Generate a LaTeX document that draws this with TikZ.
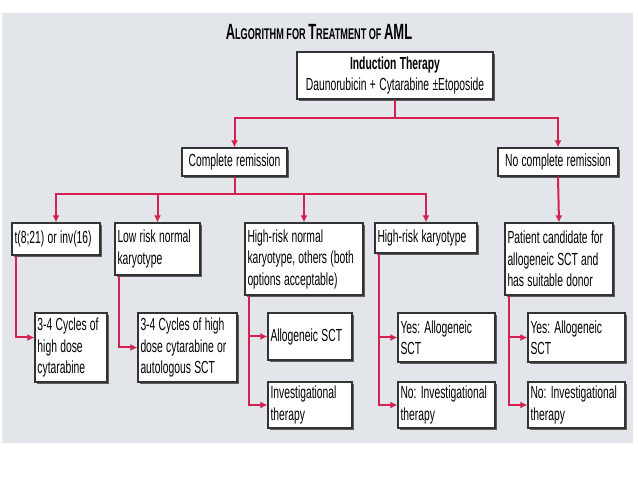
\documentclass[tikz,border=0pt]{standalone}
\usepackage{fontspec}
\setmainfont{Liberation Sans}[FakeStretch=0.59]
\usetikzlibrary{arrows.meta,calc,shadows}
\definecolor{panel}{HTML}{E2E5EA}
\definecolor{crimson}{HTML}{D4214F}
\definecolor{edge}{HTML}{333333}
\definecolor{shade}{HTML}{5E5E5E}
\newcommand{\capl}[1]{{\fontsize{22}{20}\selectfont #1}}
\newcommand{\boxfont}{\fontsize{17.5}{21.5}\selectfont\spaceskip 3.3pt plus 1pt\relax\hyphenpenalty 10000\relax}
\newcommand{\headfont}{\fontsize{15.5}{15}\selectfont\bfseries}
\tikzset{
  box/.style={draw=edge, fill=white, line width=1.2pt, align=flush left,
              inner xsep=2.5pt, inner ysep=0pt, font=\boxfont,
              drop shadow={shadow xshift=2pt, shadow yshift=-2pt, fill=shade, opacity=1}},
  link/.style={draw=crimson, line width=2pt},
  arrow/.style={link, -{Latex[length=7pt,width=7pt]}},
  heading/.style={font=\headfont, inner sep=0pt}
}

\begin{document}
\begin{tikzpicture}[x=1pt,y=-1pt]
  % page and panel
  \fill[white] (0,0) rectangle (638,478);
  \useasboundingbox (0,0) rectangle (638,478);
  \fill[panel] (2,13) rectangle (633,443);

  % title
  \node[heading] (title) at (319,32) {\capl{A}LGORITHM FOR \capl{T}REATMENT OF \capl{AML}};

  % top levels
  \node[box, align=flush center, text width=191pt, minimum height=47pt] (induct) at (395,75.5)
    {\textbf{Induction Therapy}\\Daunorubicin + Cytarabine ±Etoposide};
  \node[box, align=flush center, text width=100pt, minimum height=28pt] (cr) at (234.5,162) {Complete remission};
  \node[box, align=flush center, text width=115pt, minimum height=28pt] (ncr) at (558,162) {No complete remission};

  % risk groups
  \node[box, text width=83pt, minimum height=32pt] (t821) at (56,239) {t(8;21) or inv(16)};
  \node[box, text width=80pt, minimum height=52pt] (lowrisk) at (157.5,249) {Low risk normal\\karyotype};
  \node[box, text width=113pt, minimum height=72pt] (hrnormal) at (304,259)
    {High-risk normal\\karyotype, others (both\\options acceptable)};
  \node[box, text width=97pt, minimum height=30pt] (hrkaryo) at (426,238) {High-risk karyotype};
  \node[box, text width=103pt, minimum height=72pt] (cand) at (559,259)
    {Patient candidate for\\allogeneic SCT and\\has suitable donor};

  % treatments
  \node[box, text width=67pt, minimum height=69pt] (cycA) at (71,347.5) {3-4 Cycles of\\high dose\\cytarabine};
  \node[box, text width=94pt, minimum height=69pt] (cycB) at (187.5,347.5)
    {3-4 Cycles of high\\dose cytarabine or\\autologous SCT};
  \node[box, text width=79pt, minimum height=47pt] (alloA) at (310,336.5) {Allogeneic SCT};
  \node[box, text width=79pt, minimum height=46pt] (invA) at (310,405) {Investigational\\therapy};
  \node[box, text width=92pt, minimum height=49pt] (yesB) at (446.5,337.5) {Yes: Allogeneic\\SCT};
  \node[box, text width=92pt, minimum height=46pt] (noB) at (446.5,405) {No: Investigational\\therapy};
  \node[box, text width=92pt, minimum height=49pt] (yesC) at (576.5,337.5) {Yes: Allogeneic\\SCT};
  \node[box, text width=92pt, minimum height=46pt] (noC) at (576.5,405) {No: Investigational\\therapy};

  % buses
  \coordinate (bus1) at (395,118);
  \coordinate (bus2) at (234.5,194);
  \draw[link] (induct.south) -- (bus1);
  \draw[arrow] (bus1) -| (cr.north);
  \draw[arrow] (bus1) -| (ncr.north);
  \draw[link] (cr.south) -- (bus2);
  \foreach \n in {t821,lowrisk,hrnormal,hrkaryo}
    \draw[arrow] (bus2) -| (\n.north);
  \draw[arrow] (ncr.south) -- (cand.north);

  % elbows
  \draw[arrow] ([xshift=5pt]t821.south west) |- ([yshift=10pt]cycA.west);
  \draw[arrow] ([xshift=5pt]lowrisk.south west) |- (cycB.west);
  \draw[arrow] ([xshift=5pt]hrnormal.south west) |- (alloA.west);
  \draw[arrow] ([xshift=5pt]hrnormal.south west) |- (invA.west);
  \draw[arrow] ([xshift=5pt]hrkaryo.south west) |- (yesB.west);
  \draw[arrow] ([xshift=5pt]hrkaryo.south west) |- (noB.west);
  \draw[arrow] ([xshift=5pt]cand.south west) |- (yesC.west);
  \draw[arrow] ([xshift=5pt]cand.south west) |- (noC.west);
\end{tikzpicture}
\end{document}
